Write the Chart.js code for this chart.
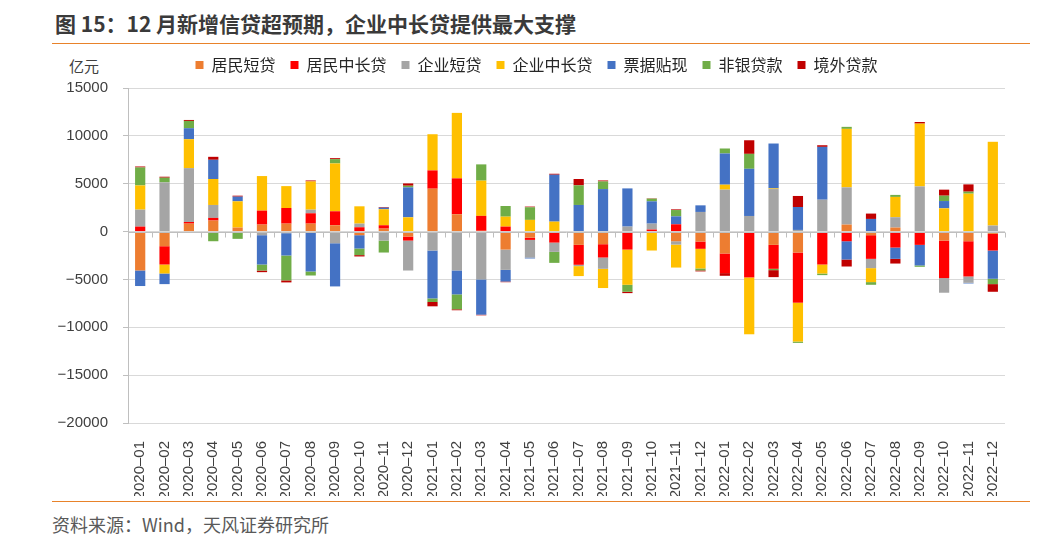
<!DOCTYPE html>
<html>
<head>
<meta charset="utf-8">
<script src="https://cdn.jsdelivr.net/npm/chart.js@4.4.1/dist/chart.umd.min.js"></script>
<style>
  body { margin: 0; background: #fff; width: 1058px; height: 549px; position: relative; overflow: hidden; font-family: "Noto Sans CJK SC", "Liberation Sans", sans-serif; }
  #title { position: absolute; left: 55px; top: 8px; font-size: 21px; font-weight: bold; color: #3a3a3a; line-height: 30px; white-space: nowrap; }
  .rule { position: absolute; left: 52px; width: 978px; height: 0; border-top: 1.5px solid #e8822a; }
  #unit { position: absolute; left: 69px; top: 55px; font-size: 15px; color: #404040; line-height: 22px; }
  #source { position: absolute; left: 52px; top: 511px; font-size: 18px; color: #595959; line-height: 26px; white-space: nowrap; }
  #wrap { position: absolute; left: 0; top: 42px; }
</style>
</head>
<body>
<div id="title">图 15：12 月新增信贷超预期，企业中长贷提供最大支撑</div>
<div class="rule" style="top:43px"></div>
<div id="unit">亿元</div>
<div id="wrap"><canvas id="chart" width="1058" height="454"></canvas></div>
<div class="rule" style="top:501px"></div>
<div id="source">资料来源：Wind，天风证券研究所</div>
<script>
const months = [
  "2020-01", "2020-02", "2020-03", "2020-04", "2020-05", "2020-06",
  "2020-07", "2020-08", "2020-09", "2020-10", "2020-11", "2020-12",
  "2021-01", "2021-02", "2021-03", "2021-04", "2021-05", "2021-06",
  "2021-07", "2021-08", "2021-09", "2021-10", "2021-11", "2021-12",
  "2022-01", "2022-02", "2022-03", "2022-04", "2022-05", "2022-06",
  "2022-07", "2022-08", "2022-09", "2022-10", "2022-11", "2022-12"
];

// 亿元
const hhShort = [-4060, -1530, 830, 1150, 420, 730, 830, 830, 660, -380, 310, -520,
  4480, 1810, 80, -1880, -630, 0, -1390, -1320, 0, 0, -1010, -1040,
  -2290, 0, -1390, -2190, 0, 730, -380, 420, 0, -940, -1010, -240];
const hhLong = [520, -1910, 170, 280, 0, 1460, 1630, 1080, 1460, 450, 350, -420,
  1910, 3750, 1560, 520, -240, -1150, -2080, -1390, -1880, 210, 760, -760,
  -2050, -4790, -2500, -5240, -3440, -1010, -2470, -1670, -1390, -3920, -3680, -1740];
const corpShort = [1770, 5140, 5630, 1350, 0, -380, -170, 380, -1220, 380, -940, -3130,
  -1980, -4060, -5000, -2120, -1840, -970, -140, -1180, 520, 620, -350, 2050,
  4380, 1630, 4440, 170, 3330, 3890, -970, 1080, 4720, -1530, -660, 630];
const corpLong = [2530, -940, 3020, 2710, 2740, 3610, 2290, 2950, 5000, 1810, 1670, 1490,
  3780, 6840, 3680, 1040, 1220, 1040, -1040, -2010, -3680, -1980, -2400, -2050,
  520, -5940, 70, -4060, -940, 6110, -1460, 2120, 6560, 2430, 3960, 8750];
const bills = [-1630, -1110, 1150, 2010, 490, -3060, -2330, -4170, -4510, -1390, 170, 3130,
  -5000, -2500, -3680, -1220, -100, 4900, 2780, 4440, 3990, 2330, 830, 690,
  3260, 4930, 4690, 2400, 5520, -1910, 1320, -1180, -2150, 760, -70, -2950];
const nonBank = [1880, 490, 760, -1010, -760, -630, -2600, -420, 450, -690, -1250, 170,
  -380, -1560, 1700, 1110, 1320, -1150, 2050, 800, -730, 280, 660, -210,
  520, 1560, -140, -140, -170, 210, -280, 210, -140, 560, 210, -560];
const foreign = [100, 100, 100, 310, 100, -170, -210, 100, 100, -140, 70, 240,
  -450, -100, -70, -70, 70, 100, 660, 100, -140, 35, 70, -100,
  -280, 1420, -730, 1150, 170, -730, 560, -490, 170, 630, 760, -800];

const seriesNames = ["居民短贷", "居民中长贷", "企业短贷", "企业中长贷", "票据贴现", "非银贷款", "境外贷款"];
const seriesData = [hhShort, hhLong, corpShort, corpLong, bills, nonBank, foreign];
const colors = ["#ed7d31", "#ff0000", "#a5a5a5", "#ffc000", "#4472c4", "#70ad47", "#c00000"];

const yTicks = { min: -20000, max: 15000, step: 5000 };

// zero line with little category tick marks, like the excel axis
const zeroAxis = {
  id: "zeroAxis",
  afterDatasetsDraw(chart) {
    const { ctx, chartArea, scales } = chart;
    const y0 = Math.round(scales.y.getPixelForValue(0)) + 0.5;
    const step = (chartArea.right - chartArea.left) / months.length;
    ctx.save();
    ctx.strokeStyle = "#bfbfbf";
    ctx.lineWidth = 1;
    ctx.beginPath();
    ctx.moveTo(chartArea.left, y0);
    ctx.lineTo(chartArea.right, y0);
    for (let i = 0; i <= months.length; i++) {
      const x = Math.round(chartArea.left + i * step) + 0.5;
      ctx.moveTo(x, y0);
      ctx.lineTo(x, y0 + 5);
    }
    ctx.stroke();
    ctx.restore();
  }
};

// fixed legend height, and nudge it a bit right like the original
const legendFix = {
  id: "legendFix",
  beforeLayout(chart) {
    const lg = chart.legend;
    if (lg && !lg._fixed) {
      const fit = lg.fit;
      lg.fit = function () { fit.call(this); this.height = 46; };
      lg._fixed = true;
    }
  },
  afterLayout(chart) {
    const lg = chart.legend;
    if (lg) { lg.left += 14; lg.right += 14; }
  }
};

const tickFont = { family: "'Liberation Sans', Arial, sans-serif", size: 15 };

new Chart(document.getElementById("chart"), {
  type: "bar",
  data: {
    labels: months,
    datasets: seriesNames.map((name, i) => ({
      label: name,
      data: seriesData[i],
      backgroundColor: colors[i],
      borderWidth: 0,
      barPercentage: 0.42,
      categoryPercentage: 1
    }))
  },
  options: {
    responsive: false,
    animation: false,
    devicePixelRatio: 1,
    layout: { padding: { left: 40, right: 53, top: 0, bottom: 0 } },
    plugins: {
      legend: {
        position: "top",
        labels: {
          boxWidth: 8,
          boxHeight: 8,
          padding: 15,
          color: "#262626",
          font: { family: "'Noto Sans CJK SC', sans-serif", size: 16 }
        }
      },
      tooltip: { enabled: false }
    },
    scales: {
      x: {
        stacked: true,
        grid: { display: false },
        border: { display: false },
        ticks: {
          autoSkip: false,
          minRotation: 90,
          maxRotation: 90,
          padding: 10,
          color: "#404040",
          font: tickFont,
          callback: (v, i) => months[i].replace("-", "–")
        },
        afterFit(scale) { scale.height = 73; }
      },
      y: {
        stacked: true,
        min: yTicks.min,
        max: yTicks.max,
        ticks: {
          stepSize: yTicks.step,
          padding: 15,
          color: "#404040",
          font: tickFont,
          callback: (v) => (v < 0 ? "−" + Math.abs(v) : String(v))
        },
        grid: { color: "#d9d9d9", lineWidth: 1, tickLength: 5, tickColor: "#bfbfbf" },
        border: { color: "#bfbfbf" },
        afterFit(scale) { scale.width = 88; }
      }
    }
  },
  plugins: [zeroAxis, legendFix]
});
</script>
</body>
</html>
